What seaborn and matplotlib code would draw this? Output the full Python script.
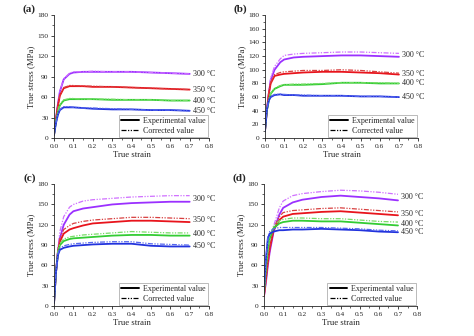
import matplotlib
matplotlib.use("Agg")
import matplotlib.pyplot as plt
from matplotlib.ticker import MultipleLocator, AutoMinorLocator
from matplotlib.lines import Line2D
import seaborn as sns
import pandas as pd

sns.set_theme(style="ticks")
plt.rcParams['font.family'] = ['Liberation Serif', 'DejaVu Serif']

strain = [0.0, 0.01, 0.02, 0.03, 0.05, 0.08, 0.1, 0.15, 0.2, 0.3, 0.4, 0.5, 0.6, 0.7]
temps = [300, 350, 400, 450]
panel_labels = ["(a)", "(b)", "(c)", "(d)"]
y_steps = [30, 20, 30, 30]

a_exp = {300: [5, 28, 50, 68, 86, 94, 96, 97, 97, 97, 97, 96, 95, 94],
         350: [5, 28, 47, 62, 73, 76, 76, 76, 75, 75, 74, 73, 72, 71],
         400: [5, 24, 38, 48, 55, 57, 57, 57, 57, 56, 56, 56, 55, 55],
         450: [5, 22, 34, 41, 45, 45, 45, 44, 43, 42, 42, 41, 41, 40]}
a_cor = {300: [5, 28, 51, 69, 87, 95, 97, 97, 98, 97, 97, 96, 95, 94],
         350: [5, 28, 48, 63, 74, 77, 77, 76, 76, 75, 74, 73, 72, 71],
         400: [5, 24, 39, 49, 56, 58, 58, 57, 57, 57, 56, 56, 55, 55],
         450: [5, 22, 35, 42, 46, 46, 45, 44, 44, 43, 42, 41, 41, 40]}
b_exp = {300: [10, 40, 65, 85, 100, 111, 115, 118, 119, 120, 121, 121, 120, 119],
         350: [10, 40, 65, 80, 91, 93, 94, 95, 96, 97, 97, 96, 95, 93],
         400: [10, 40, 55, 65, 72, 76, 78, 78, 78, 79, 81, 81, 80, 80],
         450: [10, 42, 55, 60, 63, 64, 63, 63, 62, 62, 62, 61, 61, 60]}
b_cor = {300: [10, 40, 67, 88, 105, 116, 121, 123, 124, 125, 126, 126, 125, 124],
         350: [10, 40, 66, 82, 93, 96, 97, 98, 99, 99, 100, 99, 97, 95],
         400: [10, 40, 56, 66, 73, 77, 78, 79, 79, 80, 81, 81, 81, 80],
         450: [10, 42, 56, 61, 64, 64, 64, 63, 63, 62, 62, 61, 61, 60]}
c_exp = {300: [5, 50, 80, 100, 120, 135, 140, 144, 146, 150, 152, 153, 154, 154],
         350: [5, 50, 80, 95, 107, 113, 115, 119, 122, 124, 126, 126, 125, 124],
         400: [5, 50, 78, 90, 96, 99, 100, 101, 102, 104, 105, 105, 104, 104],
         450: [5, 50, 75, 83, 86, 88, 89, 90, 91, 92, 92, 89, 88, 88]}
c_cor = {300: [5, 50, 85, 110, 132, 146, 150, 155, 157, 159, 161, 162, 163, 163],
         350: [5, 50, 82, 100, 113, 119, 122, 125, 127, 129, 131, 131, 130, 129],
         400: [5, 50, 80, 92, 99, 102, 103, 105, 106, 108, 110, 109, 108, 108],
         450: [5, 50, 77, 85, 89, 91, 92, 93, 94, 95, 95, 92, 91, 90]}
d_exp = {300: [15, 35, 60, 80, 110, 135, 145, 153, 157, 161, 163, 161, 159, 156],
         350: [15, 40, 65, 85, 112, 127, 132, 136, 137, 139, 140, 138, 136, 134],
         400: [20, 55, 85, 100, 115, 122, 124, 126, 126, 125, 125, 123, 121, 119],
         450: [25, 70, 100, 107, 110, 112, 112, 113, 113, 114, 113, 112, 110, 109]}
d_cor = {300: [15, 35, 62, 85, 118, 145, 155, 163, 166, 169, 171, 170, 168, 165],
         350: [15, 40, 67, 88, 115, 132, 138, 141, 142, 144, 145, 143, 141, 139],
         400: [20, 55, 87, 103, 118, 126, 128, 130, 130, 129, 129, 127, 125, 124],
         450: [25, 70, 102, 110, 114, 116, 116, 116, 116, 116, 115, 114, 112, 111]}

panels = [(a_exp, a_cor), (b_exp, b_cor), (c_exp, c_cor), (d_exp, d_cor)]

exp_colors = {300: "#9b30ff", 350: "#e8141c", 400: "#33cc33", 450: "#2233dd"}
cor_colors = {300: "#d070ff", 350: "#d84040", 400: "#77dd66", 450: "#5566ee"}
dashdot = (0, (4, 1.2, 1, 1.2, 1, 1.2))

fig = plt.figure(figsize=(4.74, 3.36), dpi=100)
rects = [[0.114, 0.589, 0.327, 0.366],
         [0.559, 0.589, 0.323, 0.366],
         [0.114, 0.089, 0.327, 0.363],
         [0.557, 0.089, 0.323, 0.363]]

for i, (exp, cor) in enumerate(panels):
    ax = fig.add_axes(rects[i])
    rows = []
    for t in temps:
        for s, v in zip(strain, exp[t]):
            rows.append({"strain": s, "stress": v, "T": t, "kind": "exp"})
        for s, v in zip(strain, cor[t]):
            rows.append({"strain": s, "stress": v, "T": t, "kind": "cor"})
    df = pd.DataFrame(rows)
    for t in temps:
        sub = df[(df["T"] == t) & (df["kind"] == "exp")]
        sns.lineplot(data=sub, x="strain", y="stress", ax=ax, color=exp_colors[t],
                     lw=1.3, legend=False)
        sub = df[(df["T"] == t) & (df["kind"] == "cor")]
        sns.lineplot(data=sub, x="strain", y="stress", ax=ax, color=cor_colors[t],
                     lw=0.9, dashes=False, legend=False, linestyle=dashdot)
        ylab = (exp[t][-1] + cor[t][-1]) / 2
        ax.text(0.715, ylab, f"{t} °C", fontsize=5.8, va="center", ha="left")
    ax.set_xlim(0, 0.8)
    ax.set_ylim(0, 180)
    ax.xaxis.set_major_locator(MultipleLocator(0.1))
    ax.xaxis.set_minor_locator(AutoMinorLocator(2))
    ax.yaxis.set_major_locator(MultipleLocator(y_steps[i]))
    ax.yaxis.set_minor_locator(AutoMinorLocator(2))
    ax.tick_params(which="major", labelsize=5.3, length=2.5, width=0.6, pad=1.5)
    ax.tick_params(which="minor", length=1.5, width=0.5)
    ax.set_xlabel("True strain", fontsize=6.3, labelpad=2)
    ax.set_ylabel("True stress (MPa)", fontsize=6.3, labelpad=1.5)
    for sp in ["left", "bottom"]:
        ax.spines[sp].set_linewidth(0.6)
    sns.despine(ax=ax)
    handles = [Line2D([], [], color="black", lw=1.4),
               Line2D([], [], color="black", lw=0.9, linestyle=dashdot)]
    leg = ax.legend(handles, ["Experimental value", "Corrected value"], loc="lower right",
                    fontsize=5.8, frameon=True, fancybox=False, borderaxespad=0.1,
                    handlelength=2.2, labelspacing=0.2, borderpad=0.3, handletextpad=0.5)
    leg.get_frame().set_edgecolor("#888888")
    leg.get_frame().set_linewidth(0.5)
    fig.text(rects[i][0] - 0.052, rects[i][1] + rects[i][3] + 0.002, panel_labels[i],
             fontsize=8, fontweight="bold", ha="center", va="bottom")

fig.savefig("out.png", dpi=100)
